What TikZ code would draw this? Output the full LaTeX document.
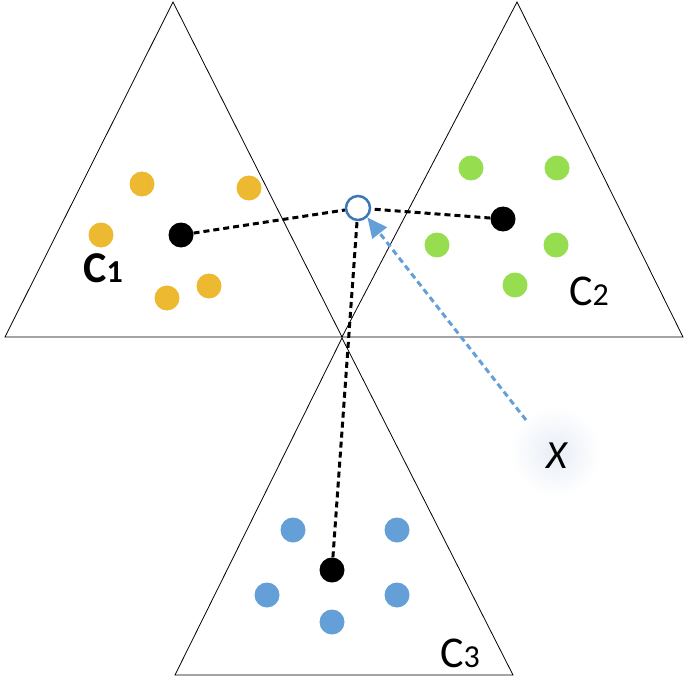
\documentclass[tikz,border=0pt]{standalone}
\usepackage{fontspec}
\setmainfont{Carlito}
\usetikzlibrary{arrows.meta}
\begin{document}
\begin{tikzpicture}[x=1pt,y=-1pt,
  tri/.style={draw=black,line width=0.8pt},
  dot/.style={circle,inner sep=0pt,minimum size=25pt},
  yel/.style={dot,fill={rgb,255:red,236;green,185;blue,48}},
  grn/.style={dot,fill={rgb,255:red,150;green,222;blue,80}},
  blu/.style={dot,fill={rgb,255:red,100;green,160;blue,215}},
  blk/.style={dot,fill=black},
  link/.style={dash pattern=on 6pt off 4pt,line width=3pt}]
\useasboundingbox (0,0) rectangle (685,679);
\draw[tri] (173,2) -- (5,337) -- (342,337) -- cycle;
\draw[tri] (517,2) -- (342,337) -- (683,337) -- cycle;
\draw[tri] (342,338) -- (175,675) -- (513,675) -- cycle;
\foreach \p in {(142,184),(249,188),(101,235),(167,298),(209,286)} \node[yel] at \p {};
\foreach \p in {(471,168),(557,168),(437,245),(556,245),(515,285)} \node[grn] at \p {};
\foreach \p in {(293,530),(397,530),(267,595),(397,595),(332,622)} \node[blu] at \p {};
\node[blk] (b1) at (181,235) {};
\node[blk] (b2) at (503,219) {};
\node[blk] (b3) at (332,570) {};
\node[circle,draw={rgb,255:red,60;green,120;blue,180},line width=2.5pt,fill=white,minimum size=24pt,inner sep=0pt] (o) at (358,208) {};
\node[circle,inner sep=0pt,minimum size=90pt,inner color={rgb,255:red,232;green,237;blue,245},outer color=white] (x) at (556,452) {};
\node[font=\fontsize{40}{44}\selectfont\itshape] at (557,456) {X};
\draw[link] (b1) -- (o);
\draw[link] (b2) -- (o);
\draw[link] (b3) -- (o);
\draw[link,color={rgb,255:red,100;green,160;blue,215},-{Triangle[length=20pt,width=18pt]}] (526,420) -- (o.south east);
\node[font=\fontsize{44}{48}\selectfont\bfseries] at (103,268) {C\fontsize{32}{34}\selectfont 1};
\node[font=\fontsize{44}{48}\selectfont] at (589,291) {C\fontsize{32}{34}\selectfont 2};
\node[font=\fontsize{44}{48}\selectfont] at (460,653) {C\fontsize{32}{34}\selectfont 3};
\end{tikzpicture}
\end{document}
